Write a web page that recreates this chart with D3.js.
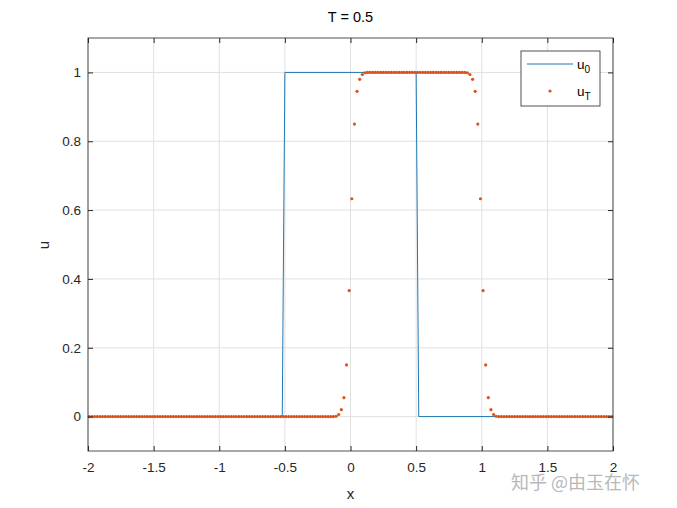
<!DOCTYPE html>
<html><head><meta charset="utf-8">
<script src="https://cdn.jsdelivr.net/npm/d3@7"></script>
<style>body{margin:0;background:#fff}text{font-family:"Liberation Sans",Arial,sans-serif}</style>
</head><body><svg id="c" width="677" height="508"></svg>
<script>
const xTicks=[-2,-1.5,-1,-0.5,0,0.5,1,1.5,2];
const yTicks=[0,0.2,0.4,0.6,0.8,1];
const u0X=[-2,-0.52,-0.5,0.5,0.52,2];
const u0Y=[0,0,1,1,0,0];
// rising edge values at x = -0.11,-0.09,...,0.11
const edgeX=[-0.11,-0.09,-0.07,-0.05,-0.03,-0.01,0.01,0.03,0.05,0.07,0.09,0.11];
const edgeU=[0.001,0.006,0.02,0.055,0.15,0.366,0.633,0.85,0.945,0.98,0.994,0.999];
const W=677,H=508,m={l:88,r:613,t:38,b:451};
const svg=d3.select("#c");
const x=d3.scaleLinear().domain([-2,2]).range([m.l,m.r]);
const y=d3.scaleLinear().domain([-0.1,1.1]).range([m.b,m.t]);
const uT=[];
for(let i=0;i<200;i++){
  const xv=+(-1.99+0.02*i).toFixed(2);
  let v;
  const k1=edgeX.findIndex(e=>Math.abs(e-xv)<1e-6);
  const k2=edgeX.findIndex(e=>Math.abs(e-(1-xv))<1e-6);
  if(k1>=0) v=edgeU[k1];
  else if(k2>=0) v=edgeU[k2];
  else v=(xv>0&&xv<1)?1:0;
  uT.push([xv,v]);
}
const g=svg.append("g");
g.append("rect").attr("x",m.l).attr("y",m.t).attr("width",m.r-m.l).attr("height",m.b-m.t).attr("fill","#fff");
xTicks.forEach(t=>g.append("line").attr("x1",x(t)).attr("x2",x(t)).attr("y1",m.t).attr("y2",m.b).attr("stroke","#e0e0e0"));
yTicks.forEach(t=>g.append("line").attr("y1",y(t)).attr("y2",y(t)).attr("x1",m.l).attr("x2",m.r).attr("stroke","#e0e0e0"));
g.append("path").datum(u0X.map((v,i)=>[v,u0Y[i]])).attr("fill","none").attr("stroke","#1f77b4").attr("stroke-width",1)
 .attr("d",d3.line().x(d=>x(d[0])).y(d=>y(d[1])));
g.selectAll("circle.p").data(uT).enter().append("circle").attr("cx",d=>x(d[0])).attr("cy",d=>y(d[1])).attr("r",1.6).attr("fill","#D95319");
g.append("rect").attr("x",m.l).attr("y",m.t).attr("width",m.r-m.l).attr("height",m.b-m.t).attr("fill","none").attr("stroke","#262626").attr("stroke-width",0.8);
const xa=svg.append("g").attr("transform",`translate(0,${m.b})`).call(d3.axisBottom(x).tickValues(xTicks).tickSize(-5).tickSizeOuter(0).tickFormat(d=>d));
const xt=svg.append("g").attr("transform",`translate(0,${m.t})`).call(d3.axisTop(x).tickValues(xTicks).tickSize(-5).tickSizeOuter(0).tickFormat(""));
const ya=svg.append("g").attr("transform",`translate(${m.l},0)`).call(d3.axisLeft(y).tickValues(yTicks).tickSize(-5).tickSizeOuter(0).tickFormat(d=>d));
const yr=svg.append("g").attr("transform",`translate(${m.r},0)`).call(d3.axisRight(y).tickValues(yTicks).tickSize(-5).tickSizeOuter(0).tickFormat(""));
[xa,xt,ya,yr].forEach(a=>{a.select(".domain").remove();a.selectAll("line").attr("stroke","#262626");a.selectAll("text").attr("fill","#262626").style("font-size","13.5px");});
xa.selectAll("text").attr("dy","1.3em");
ya.selectAll("text").attr("dx","-0.3em");
svg.append("text").attr("x",(m.l+m.r)/2).attr("y",22).attr("text-anchor","middle").style("font-size","14.5px").attr("fill","#000").text("T = 0.5");
svg.append("text").attr("x",(m.l+m.r)/2).attr("y",499).attr("text-anchor","middle").style("font-size","15px").attr("fill","#262626").text("x");
svg.append("text").attr("transform","translate(49,245) rotate(-90)").attr("text-anchor","middle").style("font-size","15px").attr("fill","#262626").text("u");
const lg=svg.append("g");
lg.append("rect").attr("x",521).attr("y",51).attr("width",79).attr("height",55).attr("fill","#fff").attr("stroke","#262626").attr("stroke-width",0.8);
lg.append("line").attr("x1",527).attr("x2",573).attr("y1",64).attr("y2",64).attr("stroke","#1f77b4");
lg.append("circle").attr("cx",550).attr("cy",91).attr("r",1.6).attr("fill","#D95319");
const t1=lg.append("text").attr("x",577).attr("y",69).style("font-size","13.5px").attr("fill","#000").text("u");
t1.append("tspan").attr("dy",4).style("font-size","10px").text("0");
const t2=lg.append("text").attr("x",577).attr("y",96).style("font-size","13.5px").attr("fill","#000").text("u");
t2.append("tspan").attr("dy",4).style("font-size","10px").text("T");
svg.append("text").attr("x",511).attr("y",489).style("font-size","18px").attr("fill","#b8b8b8").style("font-family","'Noto Sans CJK SC'").text("知乎 @由玉在怀");
</script></body></html>
